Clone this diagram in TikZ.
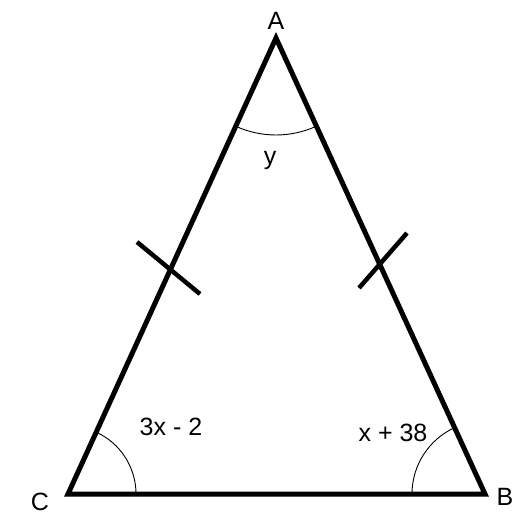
\documentclass[tikz,border=0pt]{standalone}
\usepackage{fontspec}
\setmainfont{Liberation Sans}
\begin{document}
\begin{tikzpicture}[x=1pt,y=1pt,
    lbl/.style={font=\fontsize{25}{30}\selectfont, inner sep=0pt},
    side/.style={line width=5pt, line join=miter},
    tick/.style={line width=4.5pt},
    angarc/.style={line width=0.9pt}]
    \useasboundingbox (0,0) rectangle (529,524);

    % Vertices
    \coordinate (A) at (276,486);
    \coordinate (B) at (485,30);
    \coordinate (C) at (68,30);

    % Triangle
    \draw[side] (A) -- (B) -- (C) -- cycle;

    % Equal side marks
    \coordinate (mAC) at (170,254);
    \coordinate (mAB) at (380,260);
    \draw[tick] ([shift={(-33,28)}]mAC) -- ([shift={(30,-24)}]mAC);
    \draw[tick] ([shift={(27,31)}]mAB) -- ([shift={(-21,-24)}]mAB);

    % Angle arcs
    \draw[angarc] ([shift={(245.5:97)}]A) arc (245.5:294.6:97);
    \draw[angarc] ([shift={(0:68)}]C) arc (0:65.5:68);
    \draw[angarc] ([shift={(180:73)}]B) arc (180:114.6:73);

    % Vertex labels
    \node[lbl] (labA) at (276,503) {A};
    \node[lbl] (labB) at (505,27) {B};
    \node[lbl] (labC) at (40,22) {C};

    % Angle labels
    \node[lbl] (angA) at (270,364) {y};
    \node[lbl] (angC) at (171,97) {3x - 2};
    \node[lbl] (angB) at (393,91) {x + 38};
\end{tikzpicture}
\end{document}
